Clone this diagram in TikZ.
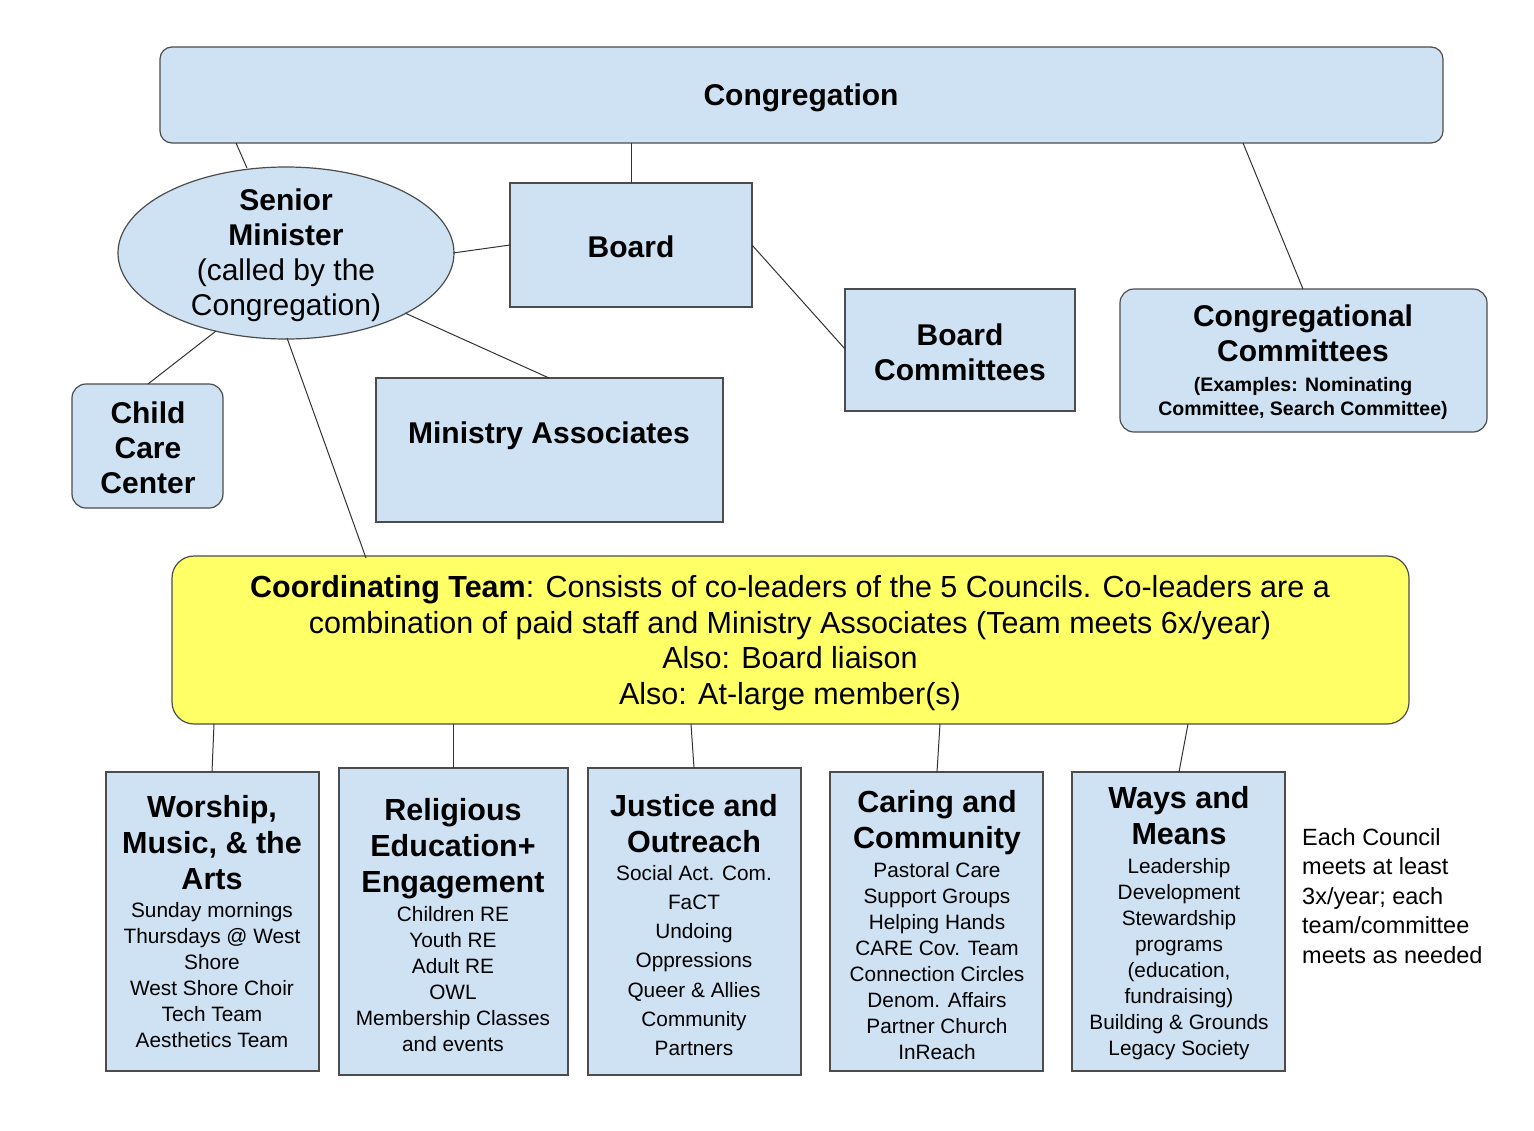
\documentclass[tikz,border=0pt]{standalone}
\usepackage{fontspec}
\setmainfont{Liberation Sans}
\begin{document}
\begin{tikzpicture}[x=1pt,y=-1pt,
  box/.style={draw=black!70,line width=1.2pt,fill=blueF},
  ln/.style={draw=black!80,line width=1pt},
  big/.style={font=\fontsize{30}{35}\selectfont\bfseries,align=center},
  tt/.style={font=\fontsize{30.5}{36}\selectfont\bfseries,align=center,inner sep=0pt},
  it/.style={font=\fontsize{20.8}{26}\selectfont,align=center,inner sep=0pt}]
\definecolor{blueF}{HTML}{CFE2F3}
\definecolor{yel}{HTML}{FFFF66}
\useasboundingbox (0,0) rectangle (1534,1130);
\fill[white] (0,0) rectangle (1534,1130);
% nodes
\draw[box,rounded corners=12pt] (160,47) rectangle (1443,143);
\node[big] (cong) at (801,98) {Congregation};
\draw[box] (286,253) ellipse (168 and 86);
\node[font=\fontsize{30}{35}\selectfont,align=center] (sm) at (286,255) {\textbf{Senior}\\\textbf{Minister}\\(called by the\\Congregation)};
\draw[box] (510,183) rectangle (752,307);
\node[big] (board) at (631,247) {Board};
\draw[box] (845,289) rectangle (1075,411);
\node[big] (bc) at (960,352) {Board\\Committees};
\draw[box,rounded corners=14pt] (1120,289) rectangle (1487,432);
\node[big,inner sep=0pt,anchor=north] (cc) at (1303,305) {Congregational\\Committees};
\node[font=\fontsize{19.5}{24}\selectfont\bfseries,align=center,inner sep=0pt,anchor=north] (cc2) at (1303,377) {(Examples: Nominating\\Committee, Search Committee)};
\draw[box,rounded corners=14pt] (72,384) rectangle (223,508);
\node[big] (child) at (148,448) {Child\\Care\\Center};
\draw[box] (376,378) rectangle (723,522);
\node[big] (ma) at (549,436) {Ministry Associates};
\draw[draw=black!70,line width=1.2pt,fill=yel,rounded corners=22pt] (172,556) rectangle (1409,724);
\node[font=\fontsize{30.5}{35.5}\selectfont,align=center] (ct) at (790,643) {\textbf{Coordinating Team}: Consists of co-leaders of the 5 Councils. Co-leaders are a\\combination of paid staff and Ministry Associates (Team meets 6x/year)\\Also: Board liaison\\Also: At-large member(s)};
% councils
\draw[box] (106,772) rectangle (319,1071);
\node[tt,anchor=north] (w) at (212,795) {Worship,\\Music, \& the\\Arts};
\node[it,anchor=north] (wi) at (212,902) {Sunday mornings\\Thursdays @ West\\Shore\\West Shore Choir\\Tech Team\\Aesthetics Team};
\draw[box] (339,768) rectangle (568,1075);
\node[tt,anchor=north] (re) at (453,798) {Religious\\Education+\\Engagement};
\node[it,anchor=north] (rei) at (453,906) {Children RE\\Youth RE\\Adult RE\\OWL\\Membership Classes\\and events};
\draw[box] (588,768) rectangle (801,1075);
\node[tt,anchor=north] (jo) at (694,794) {Justice and\\Outreach};
\node[it,anchor=north,font=\fontsize{20.8}{29.2}\selectfont] (joi) at (694,865) {Social Act. Com.\\FaCT\\Undoing\\Oppressions\\Queer \& Allies\\Community\\Partners};
\draw[box] (830,772) rectangle (1043,1071);
\node[tt,anchor=north] (cac) at (937,790) {Caring and\\Community};
\node[it,anchor=north] (caci) at (937,862) {Pastoral Care\\Support Groups\\Helping Hands\\CARE Cov. Team\\Connection Circles\\Denom. Affairs\\Partner Church\\InReach};
\draw[box] (1072,772) rectangle (1285,1071);
\node[tt,anchor=north] (wm) at (1179,786) {Ways and\\Means};
\node[it,anchor=north] (wmi) at (1179,858) {Leadership\\Development\\Stewardship\\programs\\(education,\\fundraising)\\Building \& Grounds\\Legacy Society};
\node[font=\fontsize{23.5}{29.5}\selectfont,align=left,anchor=north west,inner sep=0pt] (note) at (1302,828) {Each Council\\meets at least\\3x/year; each\\team/committee\\meets as needed};
% connector points
\coordinate (a1) at (236,143); \coordinate (a2) at (247,168);
\coordinate (b1) at (631,143); \coordinate (b2) at (631,183);
\coordinate (c1) at (1243,143); \coordinate (c2) at (1303,289);
\coordinate (d1) at (453,253); \coordinate (d2) at (510,245);
\coordinate (e1) at (752,245); \coordinate (e2) at (845,349);
\coordinate (f1) at (216,331); \coordinate (f2) at (148,384);
\coordinate (g1) at (405,313); \coordinate (g2) at (549,378);
\coordinate (h1) at (287,338); \coordinate (h2) at (366,558);
\coordinate (k1) at (214,724); \coordinate (k2) at (212,772);
\coordinate (l1) at (453,724); \coordinate (l2) at (453,768);
\coordinate (m1) at (691,724); \coordinate (m2) at (694,768);
\coordinate (n1) at (940,724); \coordinate (n2) at (937,772);
\coordinate (o1) at (1188,724); \coordinate (o2) at (1179,772);
\foreach \p in {a,b,c,d,e,f,g,h,k,l,m,n,o} \draw[ln] (\p1) -- (\p2);
\end{tikzpicture}
\end{document}
